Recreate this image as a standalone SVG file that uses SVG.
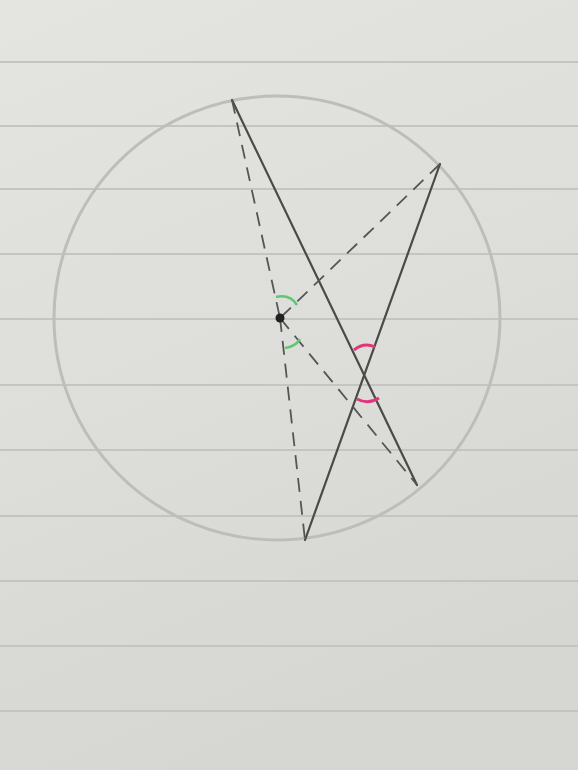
<svg xmlns="http://www.w3.org/2000/svg" width="578" height="770" viewBox="0 0 578 770">
<defs>
<linearGradient id="paper" x1="0" y1="0" x2="0.3" y2="1">
<stop offset="0" stop-color="#e4e5e0"/>
<stop offset="0.5" stop-color="#dedfda"/>
<stop offset="1" stop-color="#d6d7d2"/>
</linearGradient>
<style>
.rule{stroke:#c4c5c0;stroke-width:2;fill:none}
.solid{stroke:#4a4a4a;stroke-width:2.2;fill:none;stroke-linecap:round}
.dash{stroke:#555;stroke-width:1.8;fill:none;stroke-dasharray:14 9}
.green{stroke:#5cc873;stroke-width:2.5;fill:none}
.pink{stroke:#e0357a;stroke-width:3;fill:none}
</style>
</defs>
<rect width="578" height="770" fill="url(#paper)"/>
<g id="rules">
<path class="rule" d="M0 62H578M0 126H578M0 189H578M0 254H578M0 319H578M0 385H578M0 450H578M0 516H578M0 581H578M0 646H578M0 711H578"/>
</g>
<g id="circle">
<ellipse cx="277" cy="318" rx="223" ry="222" fill="none" stroke="#bdbdbb" stroke-width="3"/>
</g>
<g id="connectors">
<line class="solid" x1="232" y1="100" x2="417" y2="485"/>
<line class="solid" x1="440" y1="164" x2="305" y2="540"/>
<line class="dash" x1="232" y1="100" x2="280" y2="318"/>
<line class="dash" x1="280" y1="318" x2="305" y2="540"/>
<line class="dash" x1="440" y1="164" x2="280" y2="318"/>
<line class="dash" x1="280" y1="318" x2="417" y2="485"/>
</g>
<g id="center">
<circle cx="280" cy="318" r="4.5" fill="#222"/>
</g>
<g id="angles">
<path class="green" d="M276 297 Q290 294 297 305"/>
<path class="green" d="M285 348 Q295 347 300 339"/>
<path class="pink" d="M354 350 Q364 342 375 347"/>
<path class="pink" d="M357 399 Q368 405 379 398"/>
</g>
</svg>
